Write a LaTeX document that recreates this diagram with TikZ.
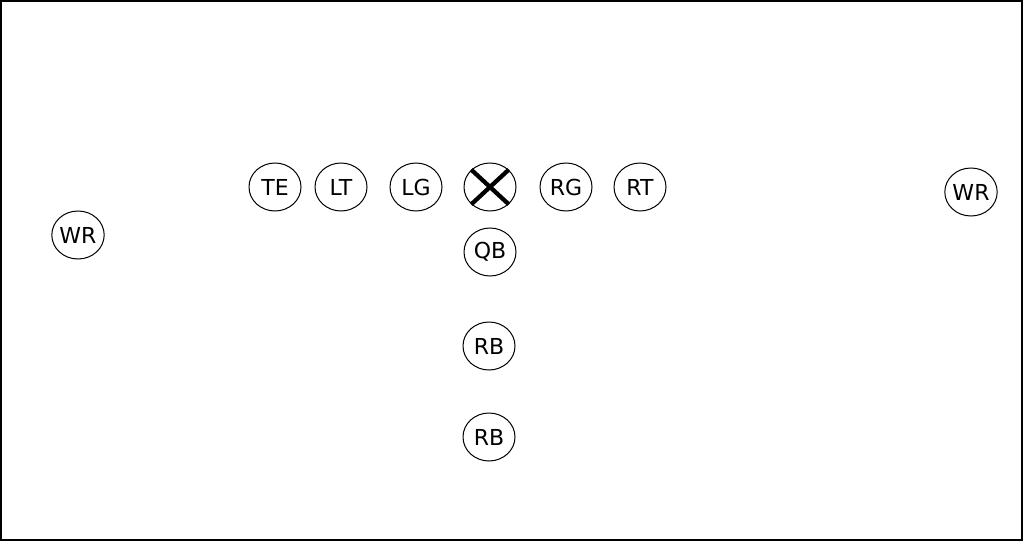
\documentclass[tikz,border=0pt]{standalone}
\usepackage{fontspec}
\setmainfont{DejaVu Sans}
\usetikzlibrary{shapes.geometric}
\begin{document}
\begin{tikzpicture}
	[x=0.75pt,y=-0.75pt,
	player/.style={ellipse,draw,line width=0.75pt,minimum width=52*0.75pt,minimum height=48*0.75pt,inner sep=0pt,font=\fontsize{16.5}{18}\selectfont}]
	\useasboundingbox (0,0) rectangle (1024,542);
	\draw[line width=0.9pt] (1,1) rectangle (1022,540);
	% line
	\node[player,name=te] at (275,187) {\raisebox{-1.5pt}{TE}};
	\node[player,name=lt] at (341,187) {LT};
	\node[player,name=lg] at (416,187) {\raisebox{-1pt}{LG}};
	\node[player,name=c] at (490,187) {};
	\node[player,name=rg] at (566,187) {RG};
	\node[player,name=rt] at (640,187) {RT};
	% receivers
	\node[player,name=wrl] at (78,235) {WR};
	\node[player,name=wrr] at (971,192) {WR};
	% backfield
	\node[player,name=qb] at (490,252) {QB};
	\node[player,name=rba] at (489,346) {RB};
	\node[player,name=rbb] at (489,437) {RB};
	\draw[line width=3.2pt](c.north west)--(c.south east);
	\draw[line width=3.2pt](c.north east)--(c.south west);
\end{tikzpicture}
\end{document}
